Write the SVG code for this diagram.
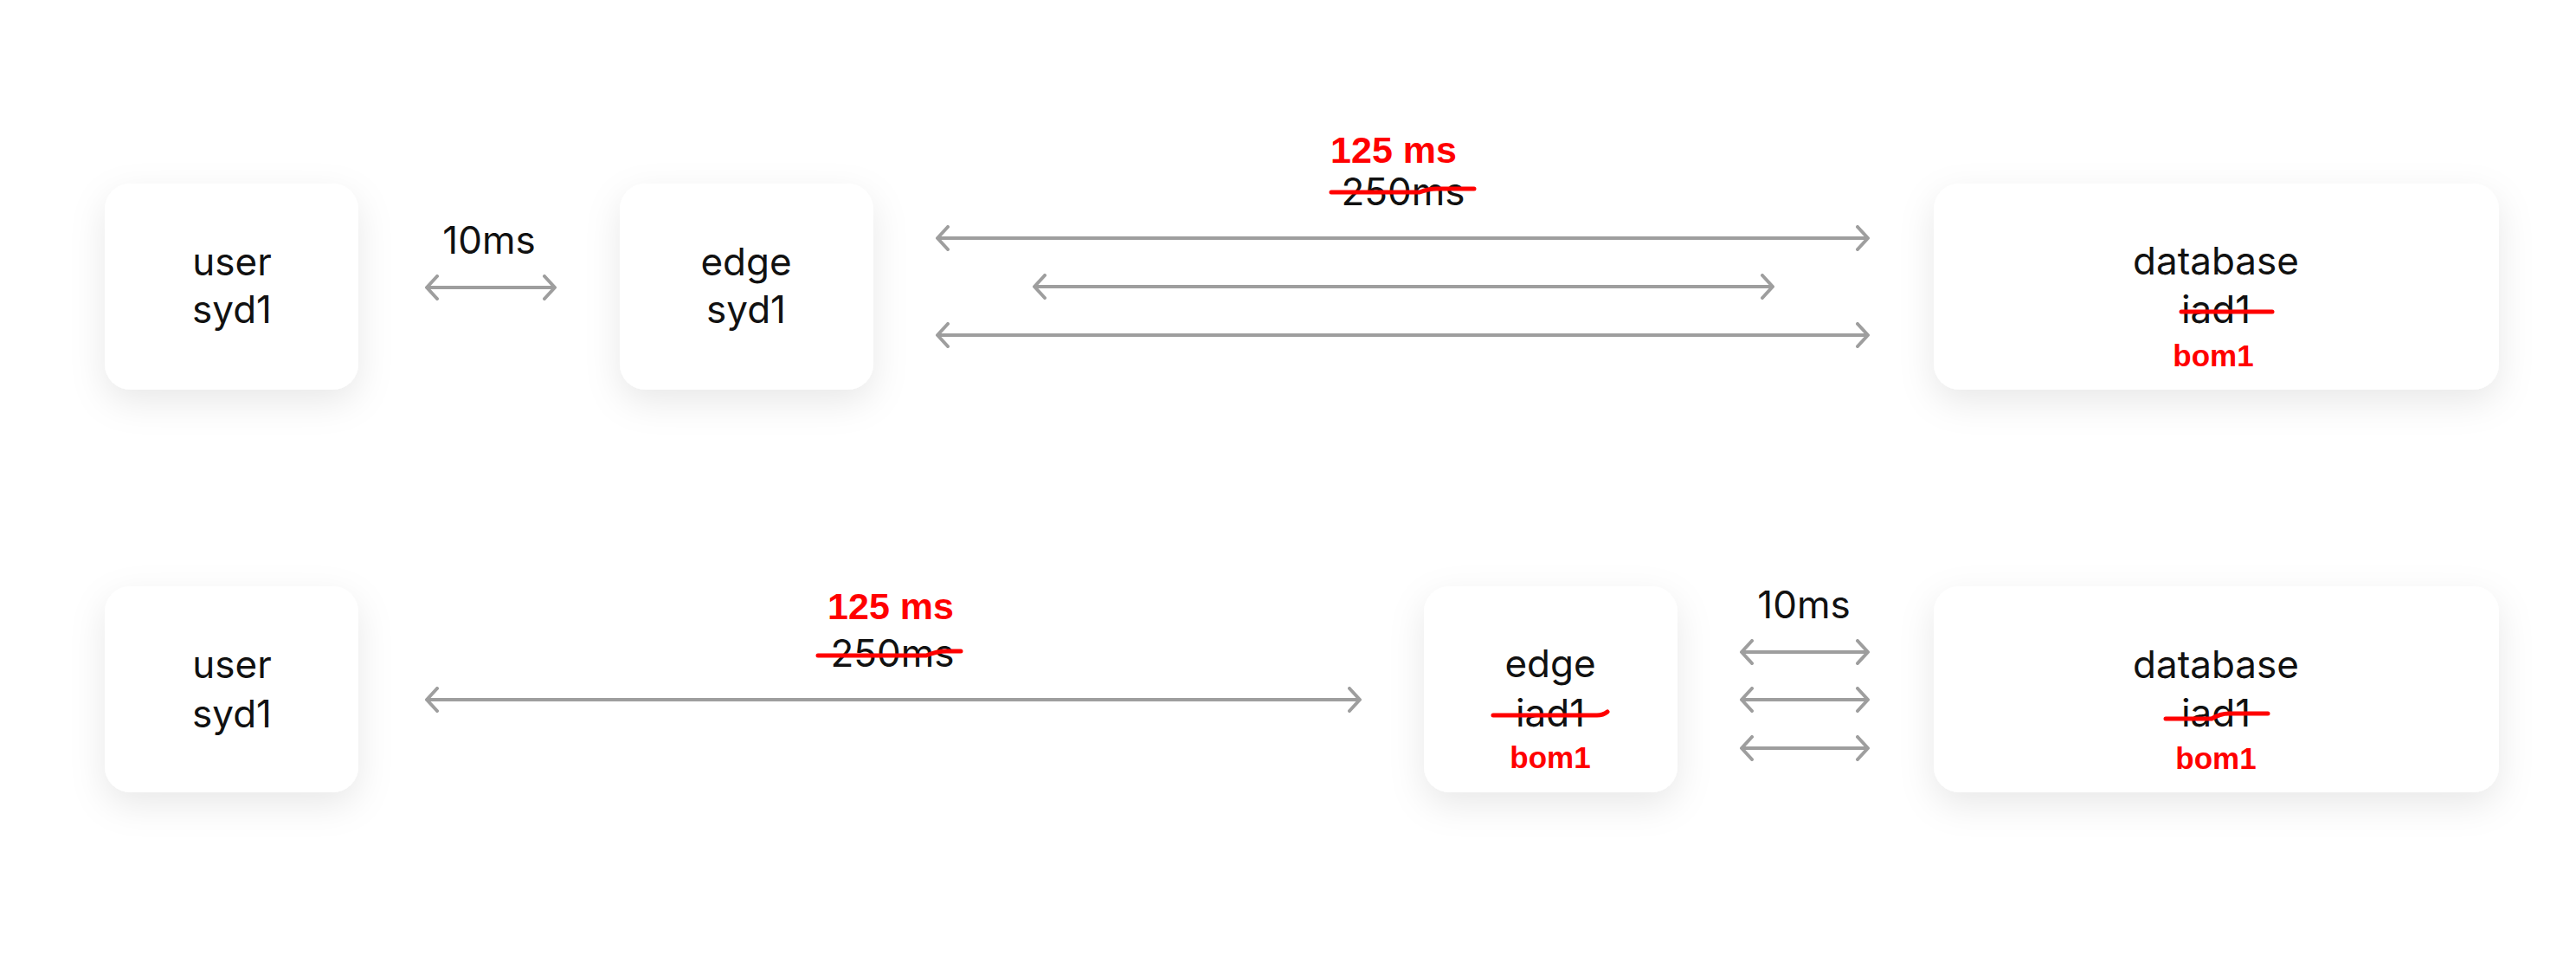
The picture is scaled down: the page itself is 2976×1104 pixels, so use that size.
<svg xmlns="http://www.w3.org/2000/svg" width="2976" height="1104" viewBox="0 0 2976 1104">
<style>
.box{fill:#ffffff;filter:url(#sh)}
.t{font-family:Inter,"Noto Sans",sans-serif;font-size:44px;fill:#111111;text-anchor:middle}
.r{font-family:"Liberation Sans",Arial,sans-serif;font-weight:bold;fill:#ff0000;text-anchor:middle}
.r1{font-size:43px}
.r2{font-size:35px}
.ln{stroke:#9e9e9e;stroke-width:4;fill:none;marker-start:url(#ah);marker-end:url(#ah)}
.st{stroke:#ff0000;stroke-width:5;fill:none;stroke-linecap:round;stroke-linejoin:round}
</style>
<defs>
<filter id="sh" x="-30%" y="-30%" width="160%" height="170%">
<feDropShadow dx="0" dy="14" stdDeviation="20" flood-color="#000000" flood-opacity="0.09"/>
</filter>
<marker id="ah" viewBox="0 0 16 30" refX="14" refY="15" markerWidth="16" markerHeight="30" markerUnits="userSpaceOnUse" orient="auto-start-reverse">
<path d="M2,2 L14,15 L2,28" fill="none" stroke="#9e9e9e" stroke-width="4" stroke-linecap="round" stroke-linejoin="round"/>
</marker>
</defs>
<rect width="2976" height="1104" fill="#ffffff"/>

<g id="user-top">
<rect class="box" x="121" y="212" width="293" height="238" rx="30"/>
<text class="t" x="268" y="318">user</text>
<text class="t" x="268" y="373">syd1</text>
</g>
<g id="edge-top">
<rect class="box" x="716" y="212" width="293" height="238" rx="30"/>
<text class="t" x="862" y="318">edge</text>
<text class="t" x="862" y="373">syd1</text>
</g>
<g id="database-top">
<rect class="box" x="2234" y="212" width="653" height="238" rx="30"/>
<text class="t" x="2560" y="317">database</text>
<text class="t" x="2560" y="373">iad1</text>
<path class="st" d="M2520,360 L2625,360"/>
<text class="r r2" x="2557" y="423">bom1</text>
</g>

<g id="user-bottom">
<rect class="box" x="121" y="677" width="293" height="238" rx="30"/>
<text class="t" x="268" y="783">user</text>
<text class="t" x="268" y="840">syd1</text>
</g>
<g id="edge-bottom">
<rect class="box" x="1645" y="677" width="293" height="238" rx="30"/>
<text class="t" x="1791" y="782">edge</text>
<text class="t" x="1791" y="839">iad1</text>
<path class="st" d="M1725,826 L1845,826 Q1852,826 1857,822"/>
<text class="r r2" x="1791" y="887">bom1</text>
</g>
<g id="database-bottom">
<rect class="box" x="2234" y="677" width="653" height="238" rx="30"/>
<text class="t" x="2560" y="783">database</text>
<text class="t" x="2560" y="839">iad1</text>
<path class="st" d="M2502,830 L2555,830 Q2565,824 2575,824 L2620,824"/>
<text class="r r2" x="2560" y="888">bom1</text>
</g>

<g id="connectors">
<line class="ln" x1="493" y1="332" x2="641" y2="332"/>
<line class="ln" x1="1083" y1="275" x2="2158" y2="275"/>
<line class="ln" x1="1195" y1="331" x2="2048" y2="331"/>
<line class="ln" x1="1083" y1="387" x2="2158" y2="387"/>
<line class="ln" x1="493" y1="808" x2="1571" y2="808"/>
<line class="ln" x1="2012" y1="753" x2="2158" y2="753"/>
<line class="ln" x1="2012" y1="808" x2="2158" y2="808"/>
<line class="ln" x1="2012" y1="864" x2="2158" y2="864"/>
</g>

<g id="labels">
<text class="t" x="565" y="293">10ms</text>
<text class="r r1" x="1610" y="188">125 ms</text>
<text class="t" x="1621" y="237">250ms</text>
<path class="st" d="M1538,222 L1640,222 Q1650,218 1660,218 L1703,218"/>
<text class="r r1" x="1029" y="715">125 ms</text>
<text class="t" x="1031" y="770">250ms</text>
<path class="st" d="M945,757 L1070,757 Q1082,752 1094,752 L1110,752"/>
<text class="t" x="2084" y="714">10ms</text>
</g>
</svg>
